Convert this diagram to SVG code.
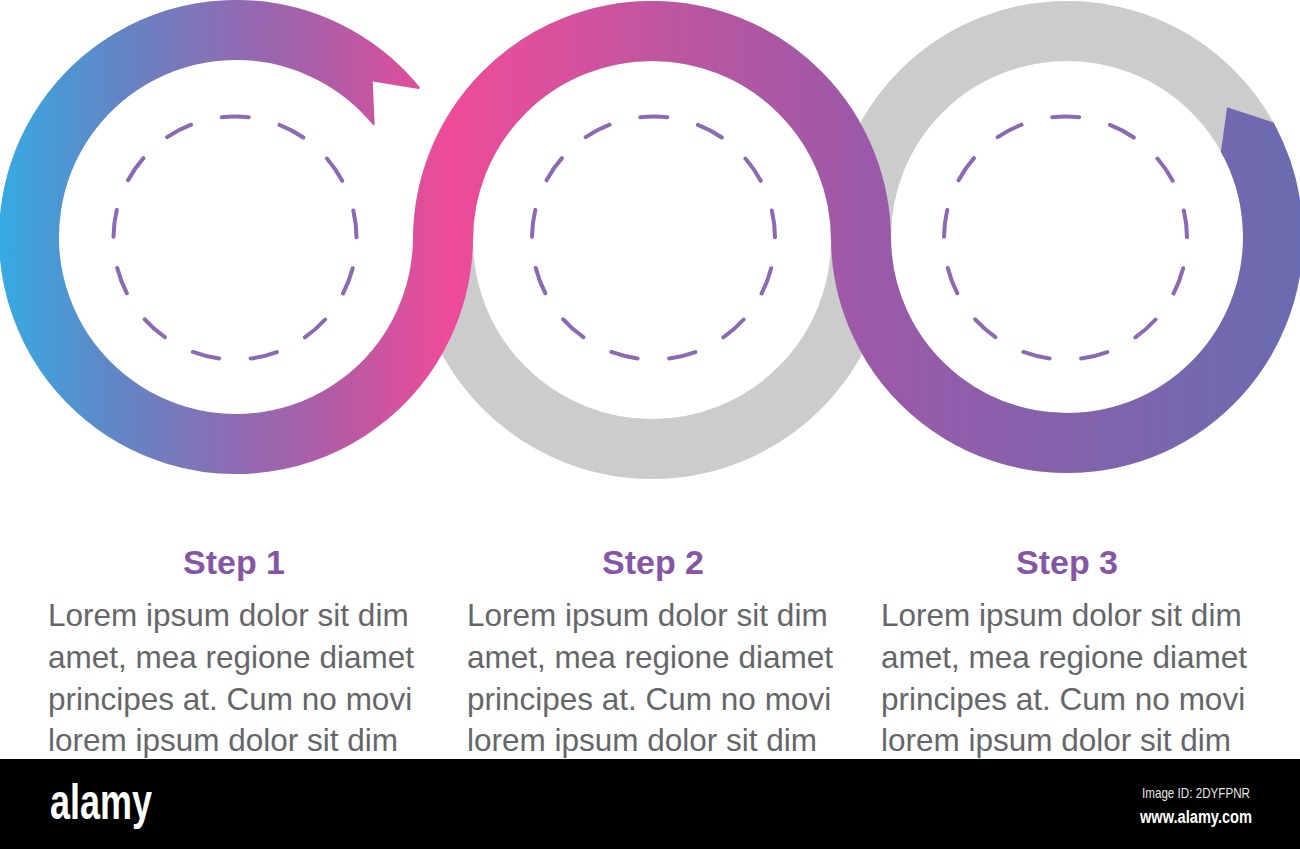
<svg xmlns="http://www.w3.org/2000/svg" width="1300" height="849" viewBox="0 0 1300 849">
  <defs>
    <linearGradient id="ribbonGrad" gradientUnits="userSpaceOnUse" x1="0" y1="0" x2="1300" y2="0">
      <stop offset="0" stop-color="#36aae2"/>
      <stop offset="0.09" stop-color="#6285c5"/>
      <stop offset="0.18" stop-color="#8d6cb3"/>
      <stop offset="0.255" stop-color="#b25ba6"/>
      <stop offset="0.345" stop-color="#ee4b98"/>
      <stop offset="0.43" stop-color="#d8519d"/>
      <stop offset="0.5" stop-color="#c1559f"/>
      <stop offset="0.662" stop-color="#9c59a8"/>
      <stop offset="0.82" stop-color="#8462ac"/>
      <stop offset="1" stop-color="#6a6bb0"/>
    </linearGradient>
    <style>
      .gray { fill: none; stroke: #cbcccb; stroke-width: 60; }
      .ribbon { fill: none; stroke: url(#ribbonGrad); stroke-width: 60; stroke-linecap: butt; stroke-linejoin: round; }
      .dash { fill: none; stroke: #8b69b3; stroke-width: 4; stroke-linecap: round; stroke-dasharray: 27 31.72; stroke-dashoffset: 28.1; }
      .step { font-family: "Liberation Sans", Arial, sans-serif; font-weight: bold; font-size: 34px; fill: #8656a6; text-anchor: middle; }
      .body { font-family: "Liberation Sans", Arial, sans-serif; font-size: 31.5px; fill: #656669; }
    </style>
  </defs>
  <rect x="0" y="0" width="1300" height="849" fill="#ffffff"/>

  <g id="connectors">
    <circle class="gray" cx="652" cy="240" r="209"/>
    <circle class="gray" cx="1067" cy="237" r="206"/>
    <path class="ribbon" d="M 396.87 106.73 A 207 207 0 1 0 443 237 L 443 240 A 209 209 0 0 1 652 31 A 209 209 0 0 1 861 240 L 861 237 A 206 206 0 1 0 1247.17 137.13"/>
    <polygon fill="url(#ribbonGrad)" points="1223.82,157.1 1220.93,151.67 1227.09,107.36 1273.41,122.58 1277.28,129.86"/>
    <polygon fill="#ffffff" points="421.44,89.4 372.71,81.57 374.82,127.16"/>
  </g>

  <g id="node1">
    <circle class="dash" cx="235" cy="238" r="121.5"/>
    <text class="step" x="234" y="574">Step 1</text>
    <text class="body" x="48" y="626">Lorem ipsum dolor sit dim</text>
    <text class="body" x="48" y="668">amet, mea regione diamet</text>
    <text class="body" x="48" y="710">principes at. Cum no movi</text>
    <text class="body" x="48" y="751">lorem ipsum dolor sit dim</text>
  </g>

  <g id="node2">
    <circle class="dash" cx="653.5" cy="238" r="121.5"/>
    <text class="step" x="653" y="574">Step 2</text>
    <text class="body" x="467" y="626">Lorem ipsum dolor sit dim</text>
    <text class="body" x="467" y="668">amet, mea regione diamet</text>
    <text class="body" x="467" y="710">principes at. Cum no movi</text>
    <text class="body" x="467" y="751">lorem ipsum dolor sit dim</text>
  </g>

  <g id="node3">
    <circle class="dash" cx="1065.5" cy="238" r="121.5"/>
    <text class="step" x="1067" y="574">Step 3</text>
    <text class="body" x="881" y="626">Lorem ipsum dolor sit dim</text>
    <text class="body" x="881" y="668">amet, mea regione diamet</text>
    <text class="body" x="881" y="710">principes at. Cum no movi</text>
    <text class="body" x="881" y="751">lorem ipsum dolor sit dim</text>
  </g>

  <g id="footer">
    <rect x="0" y="759" width="1300" height="90" fill="#000000"/>
    <text x="50" y="819" font-family="'Liberation Sans Narrow', 'Liberation Sans', Arial, sans-serif" font-weight="bold" font-size="50" fill="#ffffff" textLength="102" lengthAdjust="spacingAndGlyphs">alamy</text>
    <text x="1142" y="798" font-family="'Liberation Sans Narrow', 'Liberation Sans', Arial, sans-serif" font-size="15" fill="#e6e6e6" textLength="108" lengthAdjust="spacingAndGlyphs">Image ID: 2DYFPNR</text>
    <text x="1140" y="823" font-family="'Liberation Sans Narrow', 'Liberation Sans', Arial, sans-serif" font-weight="bold" font-size="18" fill="#ffffff" textLength="112" lengthAdjust="spacingAndGlyphs">www.alamy.com</text>
  </g>
</svg>
